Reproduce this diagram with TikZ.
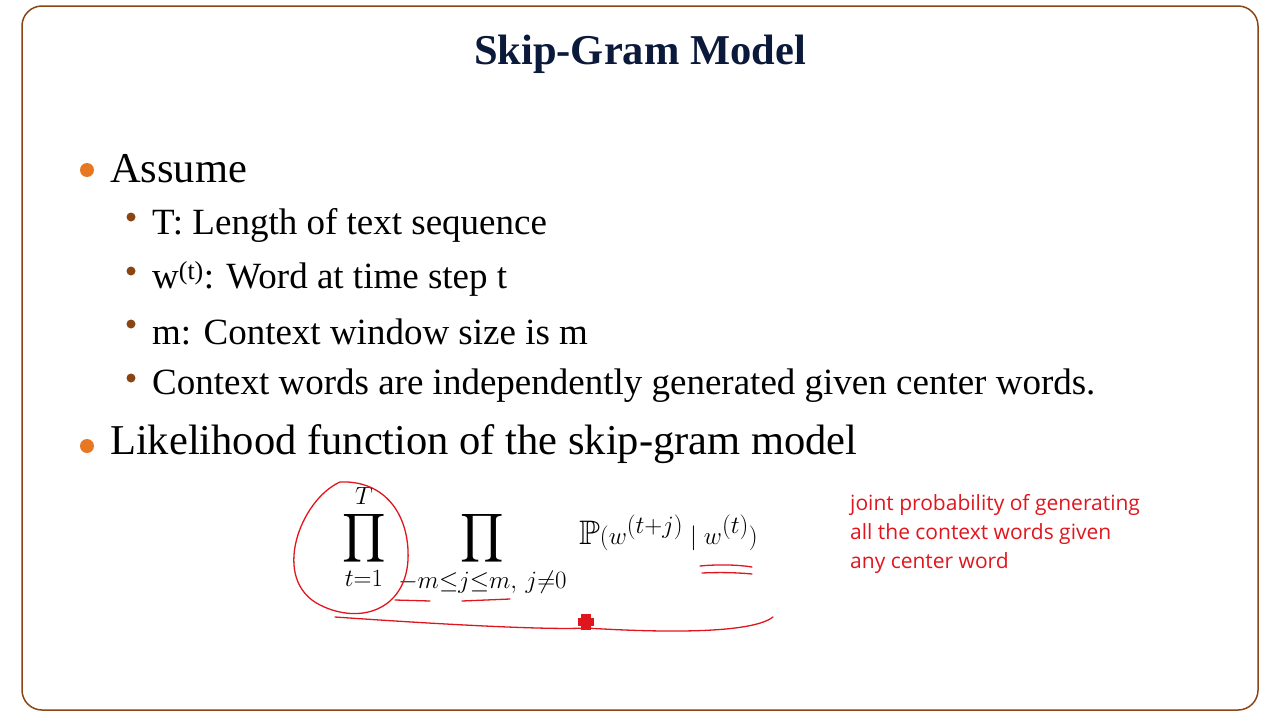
\documentclass[tikz,border=0pt]{standalone}
\usepackage{amssymb}
\usepackage{fontspec}
\setmainfont{Liberation Serif}
\newfontfamily\annot{Open Sans}
\definecolor{frame}{HTML}{8B4513}
\definecolor{navy}{HTML}{0B1A3A}
\definecolor{bulA}{HTML}{E87722}
\definecolor{bulB}{HTML}{8B4513}
\definecolor{ink}{HTML}{E0161E}
\tikzset{
  lvA/.style={anchor=west,inner sep=0pt,font=\fontsize{42.5}{46}\selectfont},
  lvB/.style={anchor=west,inner sep=0pt,font=\fontsize{37}{40}\selectfont},
  dotA/.style={circle,fill=bulA,inner sep=0pt,minimum size=14pt},
  dotB/.style={circle,fill=bulB,inner sep=0pt,minimum size=9pt},
  pen/.style={ink,line width=1.3pt,line cap=round}
}
\begin{document}
\begin{tikzpicture}[x=1pt,y=-1pt]
\useasboundingbox (0,0) rectangle (1280,720);
\draw[frame,line width=1.5pt,rounded corners=20pt] (22,6) rectangle (1258,710);
\node[font=\fontsize{42.5}{46}\selectfont\bfseries,text=navy] (title) at (640,54) {Skip-Gram Model};
\node[dotA] (d1) at (87,170) {}; \node[lvA] (t1) at (110,169) {Assume};
\node[dotB] (d2) at (131,217) {}; \node[lvB] (t2) at (152,225) {T: Length of text sequence};
\node[dotB] (d3) at (131,271) {}; \node[lvB] (t3) at (152,279) {w\textsuperscript{(t)}: Word at time step t};
\node[dotB] (d4) at (131,324) {}; \node[lvB] (t4) at (152,332) {m: Context window size is m};
\node[dotB] (d5) at (131,378) {}; \node[lvB] (t5) at (152,386) {Context words are independently generated given center words.};
\node[dotA] (d6) at (87,446) {}; \node[lvA] (t6) at (110,444) {Likelihood function of the skip-gram model};
\node[font=\fontsize{34}{38}\selectfont] (eq) at (550,540)
 {$\displaystyle\prod_{t=1}^{T}\ \prod_{-m\le j\le m,\ j\neq 0}\ \mathbb{P}(w^{(t+j)}\mid w^{(t)})$};
\node[anchor=north west,inner sep=0pt,align=left,text=ink,font=\annot\fontsize{21}{29}\selectfont] (note) at (850,494)
 {joint probability of generating\\all the context words given\\any center word};
% annotations
\draw[pen] (340,482) .. controls (300,500) and (270,580) .. (320,605)
  .. controls (360,625) and (405,610) .. (408,560)
  .. controls (410,515) and (385,480) .. (340,482);
\draw[pen] (335,617) .. controls (450,625) and (550,630) .. (586,628)
  .. controls (650,632) and (750,635) .. (773,617);
\draw[pen] (395,600) -- (430,601);
\draw[pen] (462,601) -- (510,599);
\draw[pen] (700,566) .. controls (720,564) and (740,565) .. (752,567);
\draw[pen] (702,573) .. controls (725,572) and (742,573) .. (752,574);
\fill[ink] (581,614) rectangle (591,630);
\fill[ink] (578,618) rectangle (594,626);
\end{tikzpicture}
\end{document}
